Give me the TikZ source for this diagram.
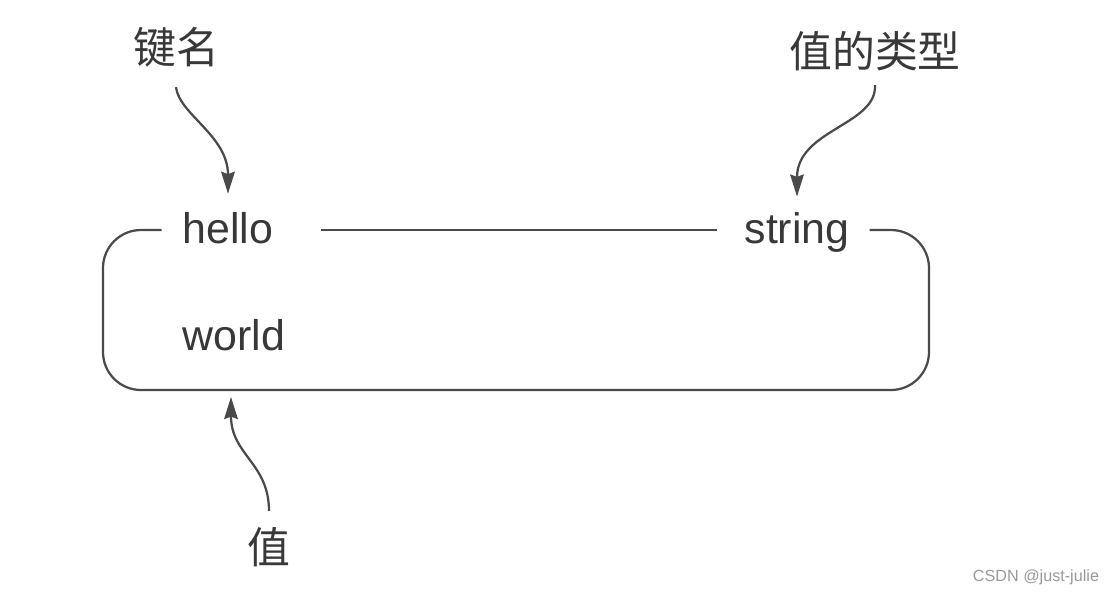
\documentclass[tikz,border=0pt]{standalone}
\usepackage{fontspec}
\setmainfont{Liberation Sans}
\newfontfamily\cjk{Noto Sans CJK SC}
\usetikzlibrary{arrows.meta}
\definecolor{linegray}{HTML}{4A4A4A}
\definecolor{txtgray}{HTML}{383838}

\begin{document}
\begin{tikzpicture}[x=0.025cm, y=-0.025cm,
        ln/.style={draw=linegray, line width=1.6pt},
        arr/.style={ln, -{Stealth[length=0.55cm, width=0.34cm, inset=0.06cm]}},
        lbl/.style={inner sep=0pt, text=txtgray, font=\fontsize{30.5}{36}\selectfont, text height=0.775cm, text depth=0.125cm},
        cn/.style={inner sep=0pt, text=txtgray, font=\cjk\fontsize{30.5}{36}\selectfont}]
        \useasboundingbox[fill=white] (0,0) rectangle (1106,594);

        % 说明文字
        \node[cn] (key) at (176,47) {键名};
        \node[cn] (vtype) at (875,51) {值的类型};
        \node[cn] (val) at (269,547) {值};

        % 键、类型、值
        \node[lbl] (hello) at (228,230) {hello};
        \node[lbl] (string) at (797,230) {string};
        \node[lbl] (world) at (234,337) {world};

        % 外框
        \coordinate (bl) at (103,390);
        \coordinate (tr) at (929,230);
        \coordinate (vtip) at (231,397);
        \draw[ln] ([xshift=1.18cm]hello.east) -- ([xshift=-0.68cm]string.west);
        \draw[ln, rounded corners=0.95cm] ([xshift=-0.52cm]hello.west) -| (bl) -| (tr) -- ([xshift=0.5cm]string.east);

        % 箭头
        \draw[arr] ([yshift=-0.5cm]key.south) .. controls +(3,27) and +(0,-58) .. ([yshift=0.45cm]hello.north);
        \draw[arr] ([yshift=-0.35cm]vtype.south) .. controls +(2,40) and +(0,-67) .. ([yshift=0.38cm]string.north);
        \draw[arr] ([yshift=0.4cm]val.north) .. controls +(0,-48) and +(0,58) .. (vtip);

        % 水印
        \node[text=gray!80, font=\fontsize{11.5}{14}\selectfont, inner sep=0pt] (mark) at (1036,577) {CSDN @just-julie};
    \end{tikzpicture}
\end{document}
